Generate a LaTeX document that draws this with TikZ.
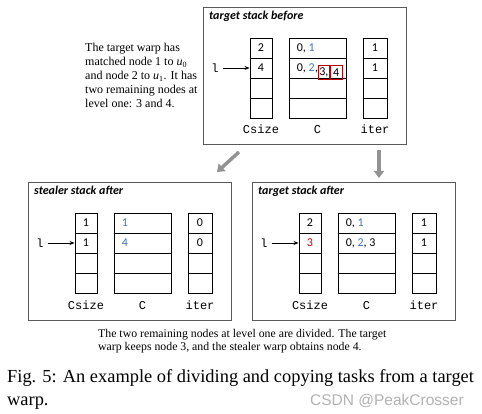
\documentclass[tikz,border=0pt]{standalone}
\usepackage{fontspec}
\setmainfont{Liberation Serif}
\newfontfamily\calfont{Carlito}
\newfontfamily\monofont{Liberation Mono}
\newfontfamily\wmfont{Liberation Sans}
\usetikzlibrary{arrows.meta}
\definecolor{cblue}{HTML}{4472C4}
\definecolor{cred}{HTML}{C00000}
\definecolor{pborder}{HTML}{595959}
\tikzset{
  panel/.style={draw=pborder, line width=1pt, minimum width=203pt, minimum height=137pt, inner sep=0pt},
  ptitle/.style={font=\calfont\bfseries\itshape\fontsize{12}{14}\selectfont, inner sep=0pt},
  cell/.style={draw=black, line width=0.9pt, minimum height=20pt, inner sep=0pt},
  celltxt/.style={font=\calfont\fontsize{12}{14}\selectfont, inner sep=0pt},
  mono/.style={font=\monofont\fontsize{12}{14}\selectfont, inner sep=0pt},
  redbox/.style={draw=cred, line width=0.8pt, minimum width=11.5pt, minimum height=14pt, inner sep=0pt, font=\calfont\fontsize{12}{14}\selectfont},
  ptr/.style={-{Stealth[length=5pt,width=4pt]}, line width=0.7pt},
  bigarrow/.style={draw=gray!85, line width=3.5pt, -{Triangle[length=7pt,width=10pt]}},
  bodytxt/.style={inner sep=0pt, align=left},
}
\newcommand\stackpanel[4]{%
  \node[panel] (#1box) at ({#2+101.5},{#3+68.5}) {};
  \node[ptitle, anchor=base west] (#1title) at ({#2+6},{#3+12}) {#4};
  \foreach \i in {1,...,4}{
    \node[cell, minimum width=22pt] (#1s\i) at ({#2+58},{#3+20+20*\i}) {};
    \node[cell, minimum width=57pt] (#1c\i) at ({#2+114.5},{#3+20+20*\i}) {};
    \node[cell, minimum width=24pt] (#1i\i) at ({#2+172},{#3+20+20*\i}) {};
  }
  \node[mono, anchor=base] (#1ls) at ({#2+58},{#3+126}) {Csize};
  \node[mono, anchor=base] (#1lc) at ({#2+114.5},{#3+126}) {C};
  \node[mono, anchor=base] (#1li) at ({#2+172},{#3+126}) {iter};
  \node[mono] (#1l) at ({#2+12},{#3+60}) {l};
  \draw[ptr, shorten <=4pt] (#1l) -- (#1s2.west);
}
\begin{document}
\begin{tikzpicture}[x=1pt,y=-1pt]
\useasboundingbox (0,0) rectangle (482,414);

% panels
\stackpanel{t}{203}{8}{target stack before}
\stackpanel{s}{28}{183}{stealer stack after}
\stackpanel{a}{252}{183}{target stack after}

% top panel contents
\node[celltxt] (ts1t) at (ts1) {2};
\node[celltxt] (ts2t) at (ts2) {4};
\node[celltxt, anchor=west] (tc1t) at ([xshift=8pt]tc1.west) {0, \textcolor{cblue}{1}};
\node[celltxt, anchor=west] (tc2t) at ([xshift=8pt]tc2.west) {0, \textcolor{cblue}{2}};
\node[celltxt, anchor=base west] (tc2c) at (tc2t.base east) {,};
\node[redbox, anchor=west] (tr3) at ([xshift=-0.5pt,yshift=-1pt]tc2c.east) {3,};
\node[redbox, anchor=west] (tr4) at (tr3.east) {4};
\node[celltxt] (ti1t) at (ti1) {1};
\node[celltxt] (ti2t) at (ti2) {1};

% stealer contents
\node[celltxt] (ss1t) at (ss1) {1};
\node[celltxt] (ss2t) at (ss2) {1};
\node[celltxt, anchor=west] (sc1t) at ([xshift=8pt]sc1.west) {\textcolor{cblue}{1}};
\node[celltxt, anchor=west] (sc2t) at ([xshift=8pt]sc2.west) {\textcolor{cblue}{4}};
\node[celltxt] (si1t) at (si1) {0};
\node[celltxt] (si2t) at (si2) {0};

% target after contents
\node[celltxt] (as1t) at (as1) {2};
\node[celltxt] (as2t) at (as2) {\textcolor{red!85!black}{3}};
\node[celltxt, anchor=west] (ac1t) at ([xshift=8pt]ac1.west) {0, \textcolor{cblue}{1}};
\node[celltxt, anchor=west] (ac2t) at ([xshift=8pt]ac2.west) {0, \textcolor{cblue}{2}, 3};
\node[celltxt] (ai1t) at (ai1) {1};
\node[celltxt] (ai2t) at (ai2) {1};

% big arrows
\coordinate (g1a) at (239,152);
\coordinate (g1b) at (217,172);
\coordinate (g2a) at (379,150);
\coordinate (g2b) at (379,178);
\draw[bigarrow] (g1a) -- (g1b);
\draw[bigarrow] (g2a) -- (g2b);

% left explanation (anchor at baseline of last line)
\node[bodytxt, anchor=base west, font=\fontsize{12}{14}\selectfont] (expl) at (85,108)
 {The target warp has\\ matched node 1 to \textit{u}\textsubscript{0}\\ and node 2 to \textit{u}\textsubscript{1}. It has\\ two remaining nodes at\\ level one: 3 and 4.};

% bottom text
\node[bodytxt, anchor=base west, font=\fontsize{11.8}{12.5}\selectfont] (bot) at (98,350)
 {The two remaining nodes at level one are divided. The target\\ warp keeps node 3, and the stealer warp obtains node 4.};

% caption
\node[bodytxt, anchor=base west, font=\fontsize{18.4}{23}\selectfont] (cap) at (7,405)
 {Fig. 5: An example of dividing and copying tasks from a target\\ warp.};

% watermark
\node[inner sep=0pt, anchor=base west, font=\wmfont\fontsize{15.5}{17}\selectfont, text=gray!60] (wm) at (310,405) {CSDN @PeakCrosser};
\end{tikzpicture}
\end{document}
